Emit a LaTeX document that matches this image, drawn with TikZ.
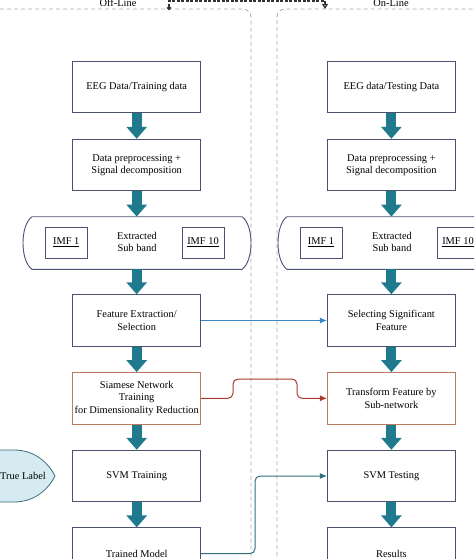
\documentclass[tikz,border=0pt]{standalone}
\usepackage{fontspec}
\setmainfont{Liberation Serif}
\usetikzlibrary{arrows.meta}
\definecolor{boxline}{HTML}{4A5270}
\definecolor{sialine}{HTML}{C07A62}
\definecolor{teal}{HTML}{1F7A8E}
\definecolor{redconn}{HTML}{A63A30}
\definecolor{blueconn}{HTML}{3A86C8}
\definecolor{tealconn}{HTML}{2E6F80}
\definecolor{lane}{HTML}{AAAAAA}
\definecolor{labfill}{HTML}{D6EBF1}
\definecolor{labline}{HTML}{3E6E7C}
\begin{document}
\begin{tikzpicture}[x=1pt,y=-1pt,
  txt/.style={font=\fontsize{10.4}{12.5}\selectfont, align=center},
  box/.style={txt, draw=boxline, line width=0.9pt, fill=white, minimum width=128pt, minimum height=51.5pt, inner sep=1pt},
  sbox/.style={box, draw=sialine},
  imf/.style={txt, draw=boxline, line width=0.8pt, fill=white, minimum width=42pt, minimum height=31pt, inner sep=1pt},
  holder/.style={minimum width=220pt, minimum height=52.3pt, inner sep=0pt},
  blockarrow/.style={draw=teal, line width=10pt, -{Triangle[width=20pt,length=12pt]}},
  lanestyle/.style={draw=lane, line width=0.8pt, dash pattern=on 4pt off 3pt, rounded corners=8pt},
  conn/.style={line width=1pt, rounded corners=5pt, -{Latex[length=7pt,width=6pt]}}
]
\useasboundingbox (0,0) rectangle (474,559);
\clip (0,0) rectangle (474,559);

% lanes
\draw[lanestyle] (0,9) -- (251,9) -- (251,570);
\draw[lanestyle] (277,570) -- (277,9) -- (480,9);
\node[txt, anchor=base] (offl) at (118,7) {Off-Line};
\node[txt, anchor=base] (onl) at (391,7) {On-Line};
\coordinate (src) at (169,10);
\coordinate (dst) at (325,9);
\draw[line width=1.3pt, draw=black!80, dash pattern=on 3pt off 1.5pt, {Circle[open,length=4pt,width=4pt]}-{Triangle[open,length=5pt,width=6pt]}] (src) -- ++(0,-9) -| (dst);

% left column
\node[box] (eeg1) at (136.7,87.2) {EEG Data/Training data};
\node[box] (dp1) at (136.7,165) {Data preprocessing +\\Signal decomposition};
\node[holder] (sb1) at (136.7,243) {};
\draw[draw=boxline, line width=0.9pt, fill=white] (32,216.7) -- (242,216.7) .. controls (254,225) and (254,261) .. (242,269.3) -- (32,269.3) .. controls (20,261) and (20,225) .. cycle;
\node[txt] (ext1) at (137,242) {Extracted\\Sub band};
\node[imf] (imfa1) at (66.3,242.5) {\underline{IMF 1}};
\node[imf] (imfb1) at (203,242.5) {\underline{IMF 10}};
\node[box] (fe1) at (136.7,320.5) {Feature Extraction/\\Selection};
\node[sbox] (sia) at (136.7,398.3) {Siamese Network\\Training\\for Dimensionality Reduction};
\node[box] (svm1) at (136.7,476) {SVM Training};
\node[box] (tm) at (136.7,553.6) {Trained Model};

% true label
\draw[draw=labline, line width=0.8pt, fill=labfill] (-10,450) -- (14,450) .. controls (34,450) and (48,462) .. (55,476) .. controls (48,490) and (34,502) .. (14,502) -- (-10,502) -- cycle;
\node[txt] (tl) at (23,476) {True Label};

% right column
\node[box] (eeg2) at (391.4,87.2) {EEG data/Testing Data};
\node[box] (dp2) at (391.4,165) {Data preprocessing +\\Signal decomposition};
\node[holder] (sb2) at (391.4,243) {};
\draw[draw=boxline, line width=0.9pt, fill=white] (490,216.7) -- (287,216.7) .. controls (275,225) and (275,261) .. (287,269.3) -- (490,269.3);
\node[txt] (ext2) at (392,242) {Extracted\\Sub band};
\node[imf] (imfa2) at (321,242.5) {\underline{IMF 1}};
\node[imf] (imfb2) at (458,242.5) {\underline{IMF 10}};
\node[box] (sf) at (391.4,320.5) {Selecting Significant\\Feature};
\node[sbox] (tf) at (391.4,398.3) {Transform Feature by\\Sub-network};
\node[box] (svm2) at (391.4,476) {SVM Testing};
\node[box] (res) at (391.4,553.6) {Results};

% block arrows
\foreach \a/\b in {eeg1/dp1, dp1/sb1, sb1/fe1, fe1/sia, sia/svm1, svm1/tm, eeg2/dp2, dp2/sb2, sb2/sf, sf/tf, tf/svm2, svm2/res}
  \draw[blockarrow] (\a.south) -- (\b.north);

% connectors
\draw[conn, draw=blueconn, -{Latex[length=7pt,width=6pt,color=blueconn]}] (fe1.east) -- (sf.west);
\draw[conn, draw=redconn] (sia.east) -- (233,398.3) -- (233,379) -- (297,379) -- (297,398.3) -- (tf.west);
\draw[conn, draw=tealconn] (tm.east) -- (255,553.6) -- (255,476) -- (svm2.west);
\end{tikzpicture}
\end{document}
